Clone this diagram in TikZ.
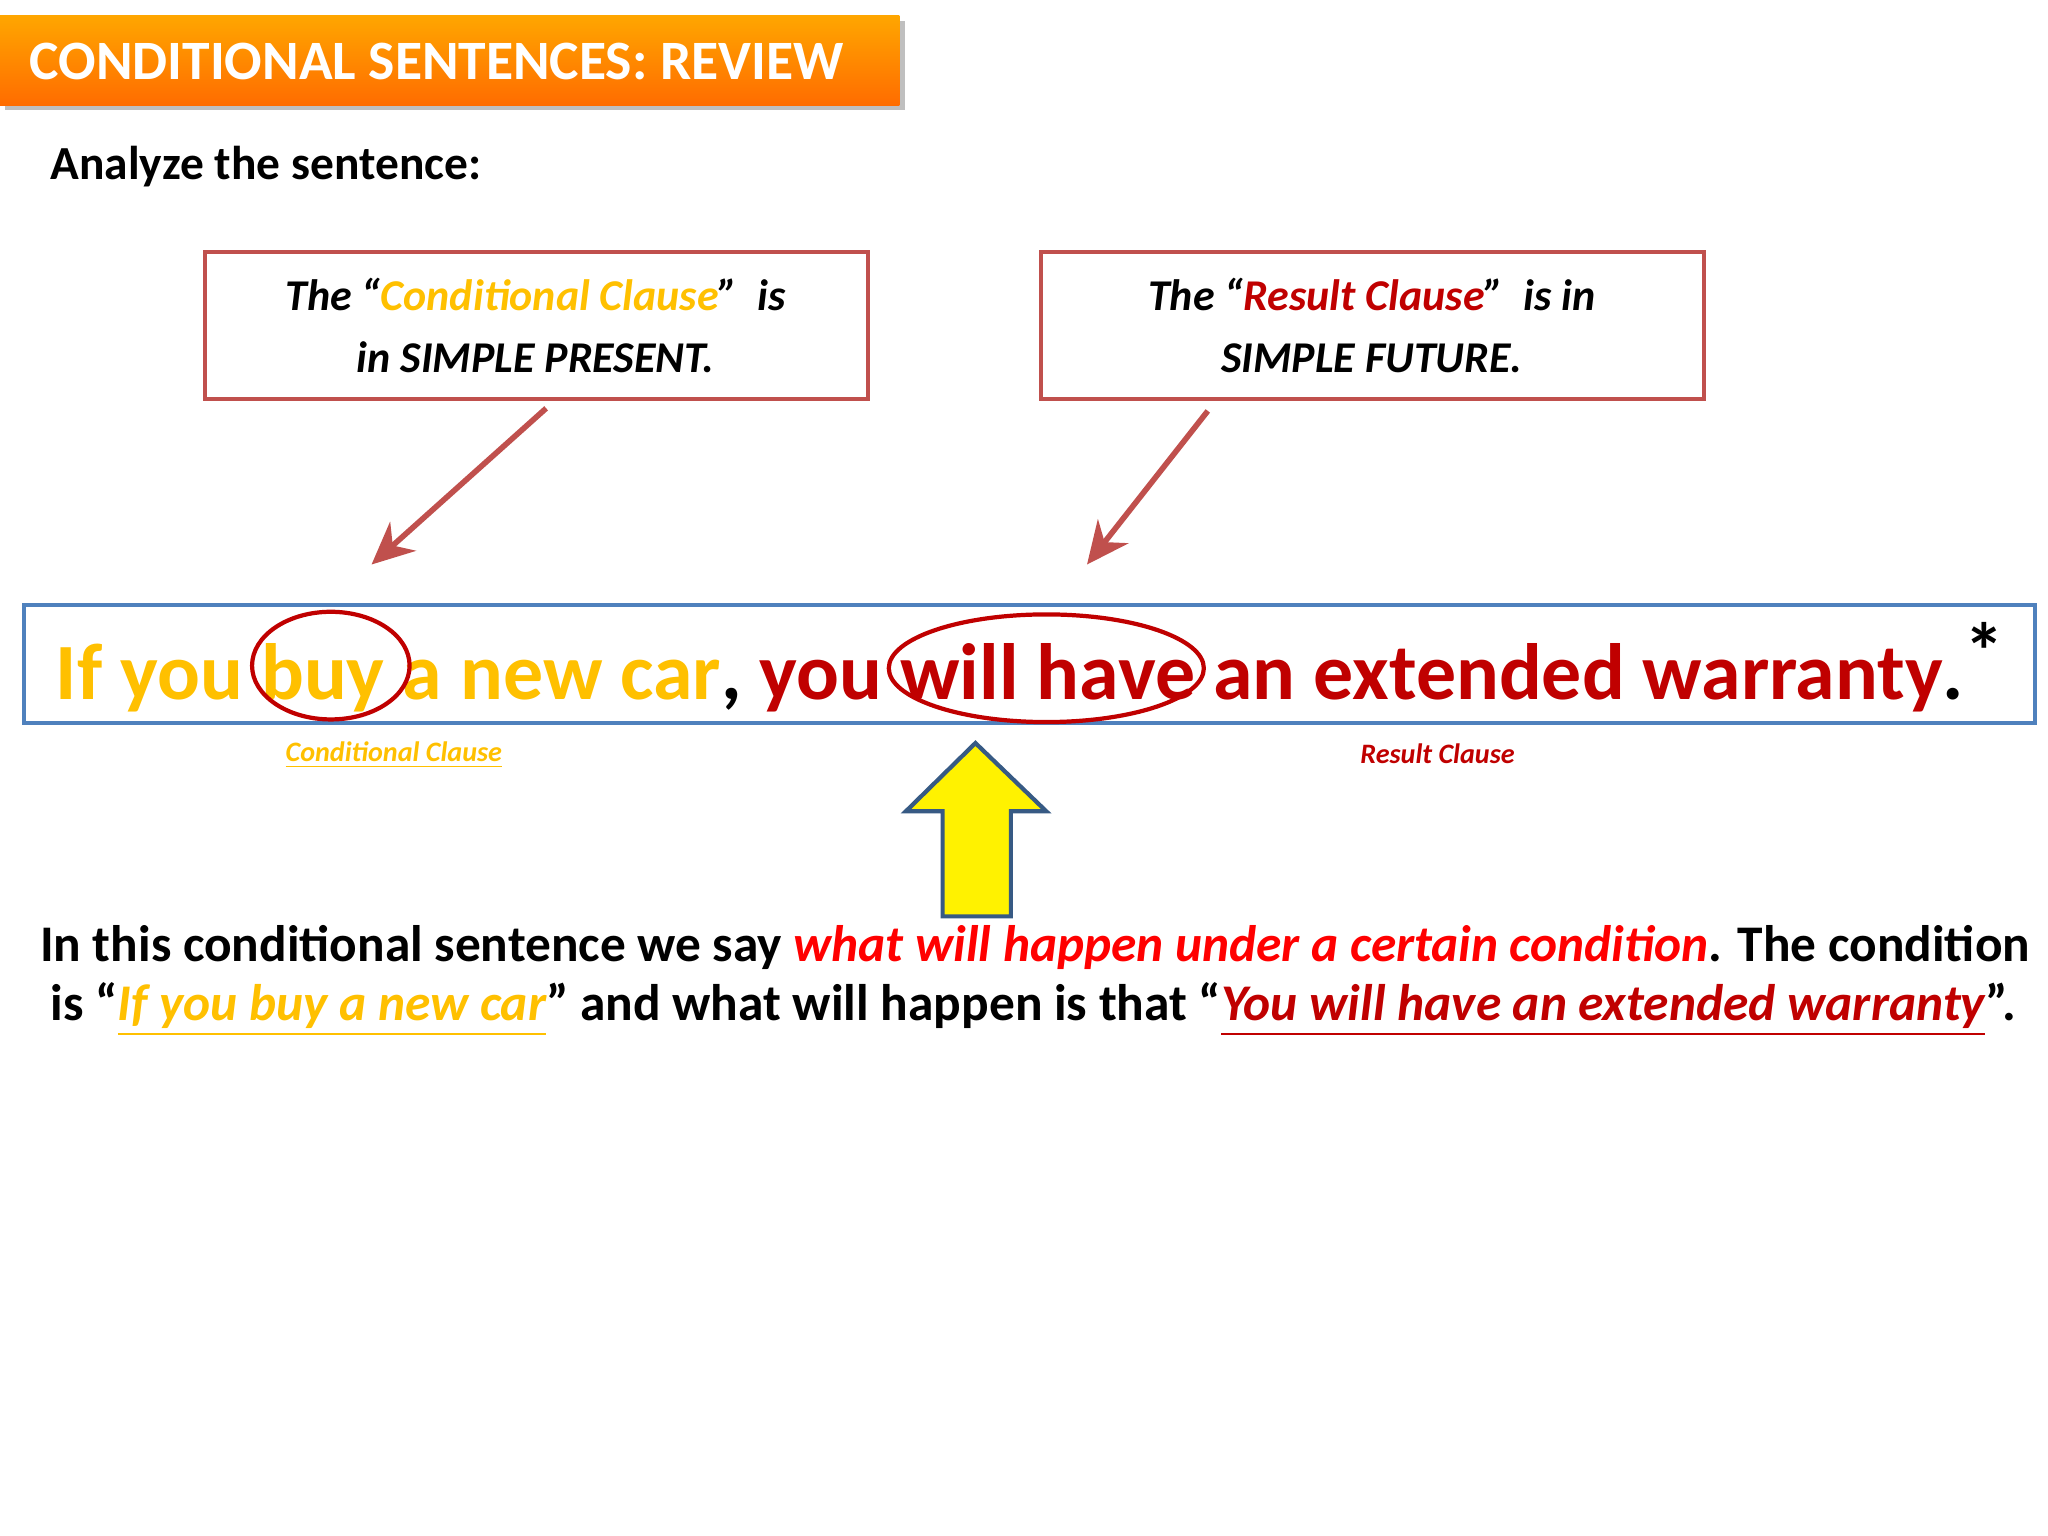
\documentclass[tikz,border=0pt]{standalone}
\usepackage{fontspec}
\setmainfont{Carlito}
\usetikzlibrary{arrows.meta}
\definecolor{cyel}{HTML}{FFC000}
\definecolor{cred}{HTML}{C00000}
\definecolor{cbox}{HTML}{C0504D}
\definecolor{cblue}{HTML}{4F81BD}
\begin{document}
\begin{tikzpicture}[x=0.013128cm,y=-0.013128cm,
  txt/.style={inner sep=0pt,anchor=west},
  clbox/.style={draw=cbox,line width=1.2pt},
  clarrow/.style={draw=cbox,line width=1.6pt,-{Stealth[length=12pt,width=11pt]}},
  ring/.style={draw=cred,line width=1.2pt}]
\useasboundingbox (0,0) rectangle (1560,1170);
\fill[white] (0,0) rectangle (1560,1170);
% title
\fill[black!25] (4,16) rectangle (689,84);
\shade[top color=orange!70!yellow, bottom color=orange!85!red] (0,12) rectangle (685,80);
\node[txt,text=white,font=\bfseries\fontsize{15.8}{17}\selectfont] (title) at (22,47) {CONDITIONAL SENTENCES: REVIEW};
\node[txt,font=\bfseries\fontsize{13.5}{15}\selectfont] (analyze) at (38,127) {Analyze the sentence:};
% boxes
\draw[clbox] (156,192) rectangle (661,304);
\node[align=center,font=\bfseries\itshape\fontsize{12.5}{17.5}\selectfont] (b1) at (408,248) {The “\textcolor{cyel}{Conditional Clause}”\ \ is\\in SIMPLE PRESENT.};
\draw[clbox] (793,192) rectangle (1298,304);
\node[align=center,font=\bfseries\itshape\fontsize{12.5}{17.5}\selectfont] (b2) at (1045,248) {The “\textcolor{cred}{Result Clause}”\ \ is in\\SIMPLE FUTURE.};
\coordinate (a1s) at (416,311); \coordinate (a1e) at (283,430);
\coordinate (a2s) at (920,313); \coordinate (a2e) at (828,430);
\draw[clarrow] (a1s) -- (a1e);
\draw[clarrow] (a2s) -- (a2e);
% sentence
\draw[cblue,line width=1.2pt] (18,461) rectangle (1550,551);
\node[txt] (sentence) at (42,508) {\resizebox{19.47cm}{!}{\bfseries\fontsize{22}{24}\selectfont\textcolor{cyel}{If you buy a new car}, \textcolor{cred}{you will have an extended warranty}.\raisebox{0.25em}{*}}};
\draw[ring] (252,507) ellipse [x radius=60, y radius=41];
\draw[ring] (797,509) ellipse [x radius=120, y radius=41];
\node[font=\bfseries\itshape\fontsize{8}{9}\selectfont,text=cyel] (cc) at (300,575) {\underline{Conditional Clause}};
\node[font=\bfseries\itshape\fontsize{8}{9}\selectfont,text=cred] (rc) at (1095,574) {Result Clause};
% yellow arrow
\draw[fill=yellow,draw=cblue!70!black,line width=1.2pt] (743,566) -- (797,618) -- (770,618) -- (770,698) -- (718,698) -- (718,618) -- (690,618) -- cycle;
% paragraph
\node[txt] (p1) at (30,722) {\resizebox{19.89cm}{!}{\bfseries\fontsize{13}{15}\selectfont In this conditional sentence we say \textcolor{red}{\itshape what will happen under a certain condition}. The condition}};
\node[txt] (p2) at (38,769) {\resizebox{19.65cm}{!}{\bfseries\fontsize{13}{15}\selectfont is “\textcolor{cyel}{\itshape\underline{If you buy a new car}}” and what will happen is that “\textcolor{cred}{\itshape\underline{You will have an extended warranty}}”.}};
\end{tikzpicture}
\end{document}
